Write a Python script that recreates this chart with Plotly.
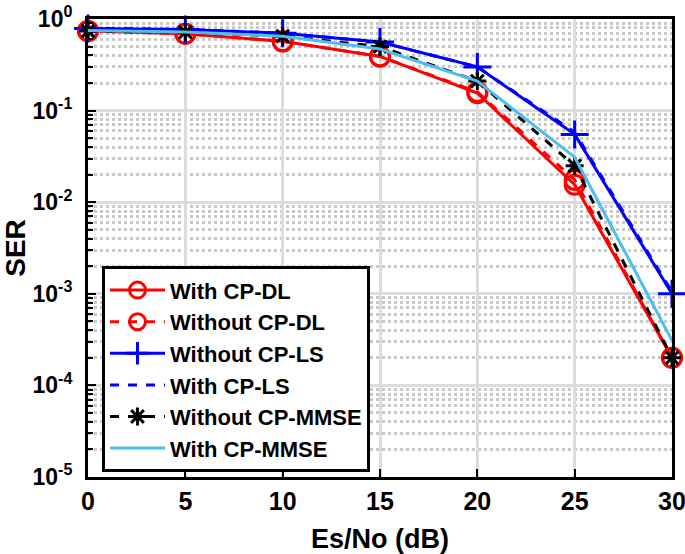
import plotly.graph_objects as go

snr = [0, 5, 10, 15, 20, 25, 30]
with_cp_dl = [0.74, 0.69, 0.57, 0.39, 0.155, 0.0155, 0.0002]
without_cp_dl = [0.74, 0.69, 0.57, 0.39, 0.16, 0.0175, 0.0002]
without_cp_ls = [0.79, 0.77, 0.70, 0.56, 0.30, 0.055, 0.00100]
with_cp_ls = [0.79, 0.77, 0.70, 0.56, 0.30, 0.058, 0.00105]
without_cp_mmse = [0.74, 0.72, 0.65, 0.50, 0.21, 0.025, 0.0002]
with_cp_mmse = [0.75, 0.72, 0.65, 0.47, 0.21, 0.031, 0.00031]

y_tickvals = [1e-5, 1e-4, 1e-3, 1e-2, 1e-1, 1e0]
y_ticktext = ["10<sup>-5</sup>", "10<sup>-4</sup>", "10<sup>-3</sup>",
              "10<sup>-2</sup>", "10<sup>-1</sup>", "10<sup>0</sup>"]
x_tickvals = [0, 5, 10, 15, 20, 25, 30]

FONT = "Liberation Sans, Arial, sans-serif"

fig = go.Figure()

def add(name, y, color, dash, symbol, msize):
    fig.add_trace(go.Scatter(
        x=snr, y=y, name=name, mode="lines+markers" if symbol else "lines",
        line=dict(color=color, width=3, dash=dash),
        marker=dict(symbol=symbol or "circle", size=msize, color=color,
                    line=dict(color=color, width=3)),
        cliponaxis=False,
    ))

add("With CP-DL", with_cp_dl, "#ff0000", "solid", "circle-open", 19)
add("Without CP-DL", without_cp_dl, "#ff0000", "dash", "circle-open", 19)
add("Without CP-LS", without_cp_ls, "#0000ff", "solid", "cross-thin-open", 20)
add("With CP-LS", with_cp_ls, "#0000ff", "dash", None, 0)
add("Without CP-MMSE", without_cp_mmse, "#000000", "dash", "asterisk-open", 15)
add("With CP-MMSE", with_cp_mmse, "#4dbeee", "solid", None, 0)

minor_vals = [m * 10 ** e for e in range(-5, 0) for m in range(2, 10)]

fig.update_layout(
    width=685, height=554,
    margin=dict(l=88, r=13, t=19, b=77, autoexpand=False),
    paper_bgcolor="white", plot_bgcolor="white",
    font=dict(family=FONT, size=22, color="black", weight="bold"),
    showlegend=True,
    legend=dict(
        x=0.024, y=0.46, xanchor="left", yanchor="top",
        bgcolor="white", bordercolor="black", borderwidth=3,
        font=dict(family=FONT, size=22, color="black", weight="bold"),
        itemwidth=55, tracegroupgap=0,
    ),
    xaxis=dict(
        range=[0, 30], tickvals=x_tickvals, automargin=False,
        showgrid=True, gridcolor="#dcdcdc", gridwidth=3,
        showline=True, mirror=True, linecolor="black", linewidth=3,
        ticks="inside", ticklen=8, tickwidth=2, tickcolor="black",
        tickfont=dict(family=FONT, size=25, weight="bold"),
        ticklabeloverflow="allow",
        title=dict(text="Es/No (dB)", font=dict(family=FONT, size=27, weight="bold"), standoff=24),
        zeroline=False,
    ),
    yaxis=dict(
        type="log", range=[-5, 0], automargin=False,
        tickvals=y_tickvals, ticktext=y_ticktext,
        showgrid=True, gridcolor="#dcdcdc", gridwidth=3,
        showline=True, mirror=True, linecolor="black", linewidth=3,
        ticks="inside", ticklen=8, tickwidth=2, tickcolor="black",
        tickfont=dict(family=FONT, size=23, weight="bold"),
        ticklabelstandoff=8, ticklabeloverflow="allow",
        title=dict(text="SER", font=dict(family=FONT, size=28, weight="bold"), standoff=0),
        minor=dict(tickvals=minor_vals, showgrid=True, gridcolor="#c8c8c8",
                   griddash="dot", gridwidth=2.5, ticks="inside", ticklen=5,
                   tickwidth=2, tickcolor="black"),
        zeroline=False,
    ),
)

fig.write_html("out.html", config={"displayModeBar": False},
               post_script="document.body.style.margin='0';document.body.style.overflow='hidden';")
